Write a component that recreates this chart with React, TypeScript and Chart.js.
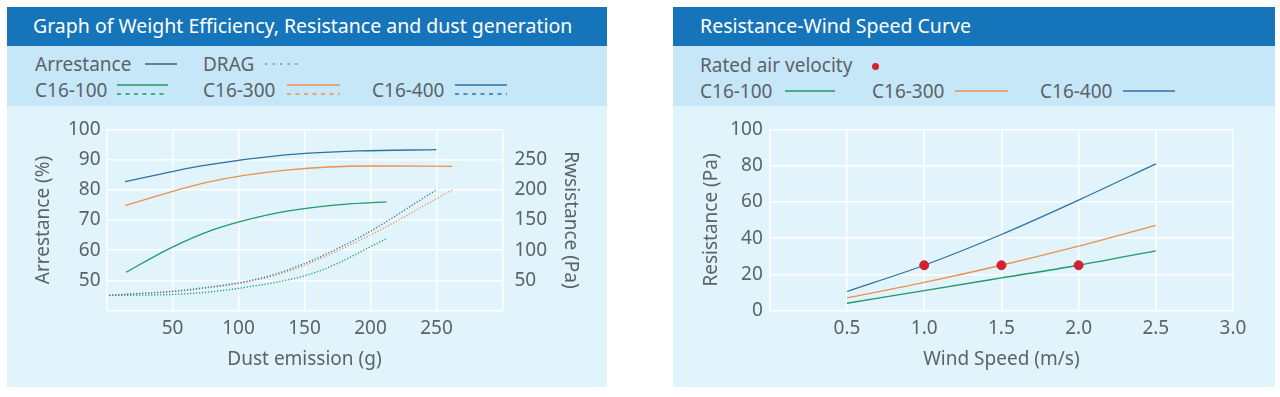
import React, { useEffect, useRef } from "react";
import { Chart, registerables } from "chart.js";
Chart.register(...registerables);

const FONT = '"Noto Sans", "DejaVu Sans", sans-serif';
const TEXT = "#5b626a";
const HEADER = "#1675ba";
const BAND = "#c6e7f7";
const PLOT_BG = "#e1f3fb";
const C_BLUE = "#2d72a4";
const C_ORANGE = "#e9924f";
const C_GREEN = "#1f9a68";
const C_RED = "#d2222f";
const C_ARR = "#4b5d6b";
const C_DRAG = "#8a949c";

// Left chart: arrestance (%) vs dust emission (g)
const arrX100 = [15, 48, 81, 114, 147, 180, 212];
const arrY100 = [52.7, 60.6, 66.8, 70.9, 73.6, 75.2, 76.0];
const arrX300 = [14, 76, 138, 200, 262];
const arrY300 = [74.8, 82.5, 86.6, 87.9, 87.8];
const arrX400 = [14, 73, 132, 191, 250];
const arrY400 = [82.7, 88.0, 91.4, 92.9, 93.3];

// Left chart: resistance (Pa) vs dust emission (g)
const dragX100 = [2, 54.5, 107, 159.5, 212];
const dragY100 = [25, 27, 39, 64, 119];
const dragX300 = [2, 67, 132, 197, 262];
const dragY300 = [25, 35, 61, 122, 200];
const dragX400 = [2, 64, 126, 188, 250];
const dragY400 = [25, 35, 59, 117, 200];

// Right chart: resistance (Pa) vs wind speed (m/s)
const windX = [0.5, 1.0, 1.5, 2.0, 2.5];
const res100 = [4, 11, 18, 25, 33];
const res300 = [7, 15.5, 25, 35.5, 47];
const res400 = [10.5, 25, 42, 61, 81];
const ratedX = [1.0, 1.5, 2.0];
const ratedY = [25, 25, 25];

const pts = (xs: number[], ys: number[]) => xs.map((x, i) => ({ x, y: ys[i] }));

const tickFont = { family: FONT, size: 19 };
const titleFont = { family: FONT, size: 19 };

function lineDs(data: any, color: string, axis: string, dashed = false) {
  return {
    data,
    borderColor: color,
    borderWidth: 1.3,
    borderDash: dashed ? [1.2, 1.8] : [],
    pointRadius: 0,
    cubicInterpolationMode: "monotone" as const,
    yAxisID: axis,
    fill: false,
  };
}

function leftConfig(): any {
  return {
    type: "line",
    data: {
      datasets: [
        lineDs(pts(arrX400, arrY400), C_BLUE, "y"),
        lineDs(pts(arrX300, arrY300), C_ORANGE, "y"),
        lineDs(pts(arrX100, arrY100), C_GREEN, "y"),
        lineDs(pts(dragX400, dragY400), C_BLUE, "y1", true),
        lineDs(pts(dragX300, dragY300), C_ORANGE, "y1", true),
        lineDs(pts(dragX100, dragY100), C_GREEN, "y1", true),
      ],
    },
    options: {
      responsive: false,
      animation: false,
      layout: { padding: { top: 23.5, left: 0, right: 0, bottom: 0 } },
      plugins: { legend: { display: false }, tooltip: { enabled: false } },
      scales: {
        x: {
          type: "linear",
          min: 0,
          max: 300,
          ticks: {
            stepSize: 50,
            color: TEXT,
            font: tickFont,
            padding: 7,
            maxRotation: 0,
            callback: (v: number) => (v === 0 || v === 300 ? "" : String(v)),
          },
          grid: { color: "#ffffff", lineWidth: 1.5, drawTicks: false },
          border: { display: false },
          title: { display: true, text: "Dust emission (g)", color: TEXT, font: titleFont, padding: { top: 0, bottom: 16 } },
          afterFit: (s: any) => { s.height = 76.5; },
        },
        y: {
          position: "left",
          min: 40,
          max: 100,
          ticks: {
            stepSize: 10,
            color: TEXT,
            font: tickFont,
            padding: 6,
            callback: (v: number) => (v === 40 ? "" : String(v)),
          },
          grid: { color: "#ffffff", lineWidth: 1.5, drawTicks: false },
          border: { display: false },
          title: { display: true, text: "Arrestance (%)", color: TEXT, font: titleFont, padding: { top: 25.6, bottom: 0 } },
          afterFit: (s: any) => { s.width = 99.5; },
        },
        y1: {
          position: "right",
          min: 0,
          max: 300,
          ticks: {
            stepSize: 50,
            color: TEXT,
            font: tickFont,
            padding: 12,
            callback: (v: number) => (v === 0 || v === 300 ? "" : String(v)),
          },
          grid: { drawOnChartArea: false, drawTicks: false },
          border: { display: false },
          title: { display: true, text: "Rwsistance (Pa)", color: TEXT, font: titleFont, padding: { top: 25.6, bottom: 0 } },
          afterFit: (s: any) => { s.width = 104.5; },
        },
      },
    },
  };
}

function rightConfig(): any {
  return {
    type: "line",
    data: {
      datasets: [
        {
          data: pts(ratedX, ratedY),
          showLine: false,
          pointRadius: 4.5,
          pointBackgroundColor: C_RED,
          pointBorderColor: C_RED,
          borderColor: C_RED,
          yAxisID: "y",
        },
        lineDs(pts(windX, res400), C_BLUE, "y"),
        lineDs(pts(windX, res300), C_ORANGE, "y"),
        lineDs(pts(windX, res100), C_GREEN, "y"),
      ],
    },
    options: {
      responsive: false,
      animation: false,
      layout: { padding: { top: 23.5, left: 0, right: 42, bottom: 0 } },
      plugins: { legend: { display: false }, tooltip: { enabled: false } },
      scales: {
        x: {
          type: "linear",
          min: 0,
          max: 3,
          ticks: {
            stepSize: 0.5,
            color: TEXT,
            font: tickFont,
            padding: 7,
            maxRotation: 0,
            callback: (v: number) => (v === 0 ? "" : Number(v).toFixed(1)),
          },
          grid: { color: "#ffffff", lineWidth: 1.5, drawTicks: false },
          border: { display: false },
          title: { display: true, text: "Wind Speed (m/s)", color: TEXT, font: titleFont, padding: { top: 0, bottom: 16 } },
          afterFit: (s: any) => { s.height = 76.5; },
        },
        y: {
          position: "left",
          min: 0,
          max: 100,
          ticks: { stepSize: 20, color: TEXT, font: tickFont, padding: 7 },
          grid: { color: "#ffffff", lineWidth: 1.5, drawTicks: false },
          border: { display: false },
          title: { display: true, text: "Resistance (Pa)", color: TEXT, font: titleFont, padding: { top: 27.6, bottom: 0 } },
          afterFit: (s: any) => { s.width = 96.8; },
        },
      },
    },
  };
}

function Txt({ x, cy, children, color = TEXT, size = 19 }: any) {
  return (
    <div
      style={{
        position: "absolute",
        left: x,
        top: cy - 12,
        height: 24,
        lineHeight: "24px",
        fontSize: size,
        color,
        whiteSpace: "nowrap",
      }}
    >
      {children}
    </div>
  );
}

function LLine({ x1, x2, y, color, dash }: any) {
  return (
    <svg
      style={{ position: "absolute", left: x1, top: y - 2, overflow: "visible" }}
      width={x2 - x1}
      height={4}
    >
      <line x1={0} y1={2} x2={x2 - x1} y2={2} stroke={color} strokeWidth={1.5} strokeDasharray={dash || undefined} />
    </svg>
  );
}

function Double({ x1, x2, color }: any) {
  return (
    <>
      <LLine x1={x1} x2={x2} y={85} color={color} />
      <LLine x1={x1} x2={x2} y={93.5} color={color} dash="4 4.5" />
    </>
  );
}

export default function App() {
  const leftRef = useRef<HTMLCanvasElement>(null);
  const rightRef = useRef<HTMLCanvasElement>(null);

  useEffect(() => {
    const c1 = new Chart(leftRef.current as HTMLCanvasElement, leftConfig());
    const c2 = new Chart(rightRef.current as HTMLCanvasElement, rightConfig());
    return () => {
      c1.destroy();
      c2.destroy();
    };
  }, []);

  return (
    <div
      style={{
        position: "fixed",
        left: 0,
        top: 0,
        width: 1280,
        height: 397,
        background: "#ffffff",
        fontFamily: FONT,
        overflow: "hidden",
      }}
    >
      {/* Left panel */}
      <div style={{ position: "absolute", left: 7, top: 7, width: 600, height: 39, background: HEADER }} />
      <div style={{ position: "absolute", left: 7, top: 46, width: 600, height: 60, background: BAND }} />
      <div style={{ position: "absolute", left: 7, top: 106, width: 600, height: 281, background: PLOT_BG }} />
      <Txt x={33} cy={26} color="#ffffff" size={19.5}>Graph of Weight Efficiency, Resistance and dust generation</Txt>
      <Txt x={35} cy={64}>Arrestance</Txt>
      <LLine x1={145} x2={177} y={64} color={C_ARR} />
      <Txt x={203} cy={64}>DRAG</Txt>
      <LLine x1={265} x2={299} y={64} color={C_DRAG} dash="2.5 5" />
      <Txt x={35} cy={90}>C16-100</Txt>
      <Double x1={117} x2={168} color={C_GREEN} />
      <Txt x={203} cy={90}>C16-300</Txt>
      <Double x1={287} x2={340} color={C_ORANGE} />
      <Txt x={372} cy={90}>C16-400</Txt>
      <Double x1={455} x2={507} color={C_BLUE} />
      <canvas
        ref={leftRef}
        width={600}
        height={281}
        style={{ position: "absolute", left: 7, top: 106, width: 600, height: 281 }}
      />

      {/* Right panel */}
      <div style={{ position: "absolute", left: 673, top: 7, width: 602, height: 39, background: HEADER }} />
      <div style={{ position: "absolute", left: 673, top: 46, width: 602, height: 60, background: BAND }} />
      <div style={{ position: "absolute", left: 673, top: 106, width: 602, height: 281, background: PLOT_BG }} />
      <Txt x={700} cy={26} color="#ffffff" size={19.5}>Resistance-Wind Speed Curve</Txt>
      <Txt x={700} cy={65}>Rated air velocity</Txt>
      <div
        style={{
          position: "absolute",
          left: 872,
          top: 63,
          width: 7,
          height: 7,
          borderRadius: "50%",
          background: C_RED,
        }}
      />
      <Txt x={700} cy={91}>C16-100</Txt>
      <LLine x1={785} x2={835} y={91} color={C_GREEN} />
      <Txt x={872} cy={91}>C16-300</Txt>
      <LLine x1={955} x2={1008} y={91} color={C_ORANGE} />
      <Txt x={1040} cy={91}>C16-400</Txt>
      <LLine x1={1123} x2={1175} y={91} color={C_BLUE} />
      <canvas
        ref={rightRef}
        width={602}
        height={281}
        style={{ position: "absolute", left: 673, top: 106, width: 602, height: 281 }}
      />
    </div>
  );
}
